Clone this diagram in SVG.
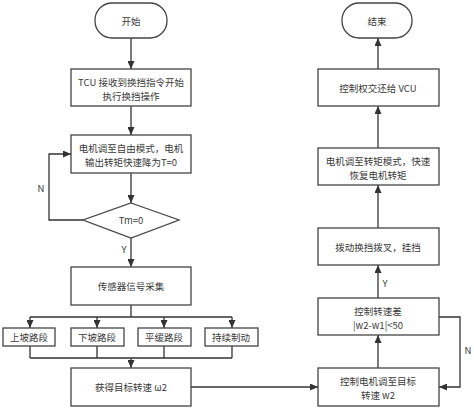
<svg xmlns="http://www.w3.org/2000/svg" width="474" height="410" viewBox="0 0 474 410">
<defs>
<marker id="ah" viewBox="0 0 10 10" refX="10" refY="5" markerWidth="8" markerHeight="7" markerUnits="userSpaceOnUse" orient="auto" preserveAspectRatio="none"><path d="M0,0 L10,5 L0,10 z" fill="#333"/></marker>
</defs>
<style>
.n{fill:#fff;stroke:#444;stroke-width:1.3}
.t{font-family:"Noto Sans CJK SC","Noto Sans",sans-serif;font-size:9.5px;fill:#3a3a3a;text-anchor:middle;dominant-baseline:central}
.c{fill:none;stroke:#333;stroke-width:1.3}
.a{marker-end:url(#ah)}
</style>
<rect width="474" height="410" fill="#fff"/>
<g id="connectors">
<path class="c a" d="M131,38 V69"/>
<path class="c a" d="M131,106 V135"/>
<path class="c a" d="M131,173 V203"/>
<path class="c a" d="M83,220 H49 V154 H71"/>
<path class="c a" d="M131,238 V267"/>
<path class="c" d="M131,305 V317 M30,317 H232"/>
<path class="c a" d="M30,317 V328"/>
<path class="c a" d="M97,317 V328"/>
<path class="c a" d="M164,317 V328"/>
<path class="c a" d="M232,317 V328"/>
<path class="c" d="M30,346 V358 M97,346 V358 M164,346 V358 M232,346 V358 M30,358 H232"/>
<path class="c a" d="M131,358 V368"/>
<path class="c a" d="M191,387 H318"/>
<path class="c a" d="M378,368 V335"/>
<path class="c a" d="M439,317 H460 V387 H439"/>
<path class="c a" d="M378,298 V265"/>
<path class="c a" d="M378,228 V185"/>
<path class="c a" d="M378,148 V106"/>
<path class="c a" d="M378,69 V38"/>
<text class="t" x="41" y="188">N</text>
<text class="t" x="124" y="249">Y</text>
<text class="t" x="385" y="283">Y</text>
<text class="t" x="468" y="350">N</text>
</g>
<g id="start"><rect class="n" x="95" y="3" width="72" height="35" rx="17" ry="17"/><text class="t" x="131" y="21">开始</text></g>
<g id="tcu"><rect class="n" x="71" y="69" width="120" height="37"/><text class="t" x="131" y="82">TCU 接收到换挡指令开始</text><text class="t" x="131" y="96">执行换挡操作</text></g>
<g id="free"><rect class="n" x="71" y="135" width="120" height="38"/><text class="t" x="131" y="148">电机调至自由模式，电机</text><text class="t" x="131" y="162">输出转矩快速降为T=0</text></g>
<g id="tm"><path class="n" d="M131,203 L179,220 L131,238 L83,220 z"/><text class="t" x="131" y="220">Tm=0</text></g>
<g id="sensor"><rect class="n" x="71" y="267" width="120" height="38"/><text class="t" x="131" y="286">传感器信号采集</text></g>
<g id="up"><rect class="n" x="3" y="328" width="52" height="18"/><text class="t" x="29" y="337">上坡路段</text></g>
<g id="down"><rect class="n" x="71" y="328" width="53" height="18"/><text class="t" x="97" y="337">下坡路段</text></g>
<g id="flat"><rect class="n" x="138" y="328" width="53" height="18"/><text class="t" x="164" y="337">平缓路段</text></g>
<g id="brake"><rect class="n" x="205" y="328" width="53" height="18"/><text class="t" x="231" y="337">持续制动</text></g>
<g id="target"><rect class="n" x="71" y="368" width="120" height="38"/><text class="t" x="131" y="387">获得目标转速 ω2</text></g>
<g id="end"><rect class="n" x="342" y="3" width="70" height="35" rx="17" ry="17"/><text class="t" x="377" y="21">结束</text></g>
<g id="vcu"><rect class="n" x="318" y="69" width="121" height="37"/><text class="t" x="378" y="88">控制权交还给 VCU</text></g>
<g id="torque"><rect class="n" x="318" y="148" width="121" height="37"/><text class="t" x="378" y="161">电机调至转矩模式，快速</text><text class="t" x="378" y="175">恢复电机转矩</text></g>
<g id="fork"><rect class="n" x="318" y="228" width="121" height="37"/><text class="t" x="378" y="247">拨动换挡拨叉，挂挡</text></g>
<g id="diff"><rect class="n" x="318" y="298" width="121" height="37"/><text class="t" x="378" y="311">控制转速差</text><text class="t" x="378" y="325">|w2-w1|&lt;50</text></g>
<g id="ctrl"><rect class="n" x="318" y="368" width="121" height="38"/><text class="t" x="378" y="381">控制电机调至目标</text><text class="t" x="378" y="395">转速 w2</text></g>
</svg>
